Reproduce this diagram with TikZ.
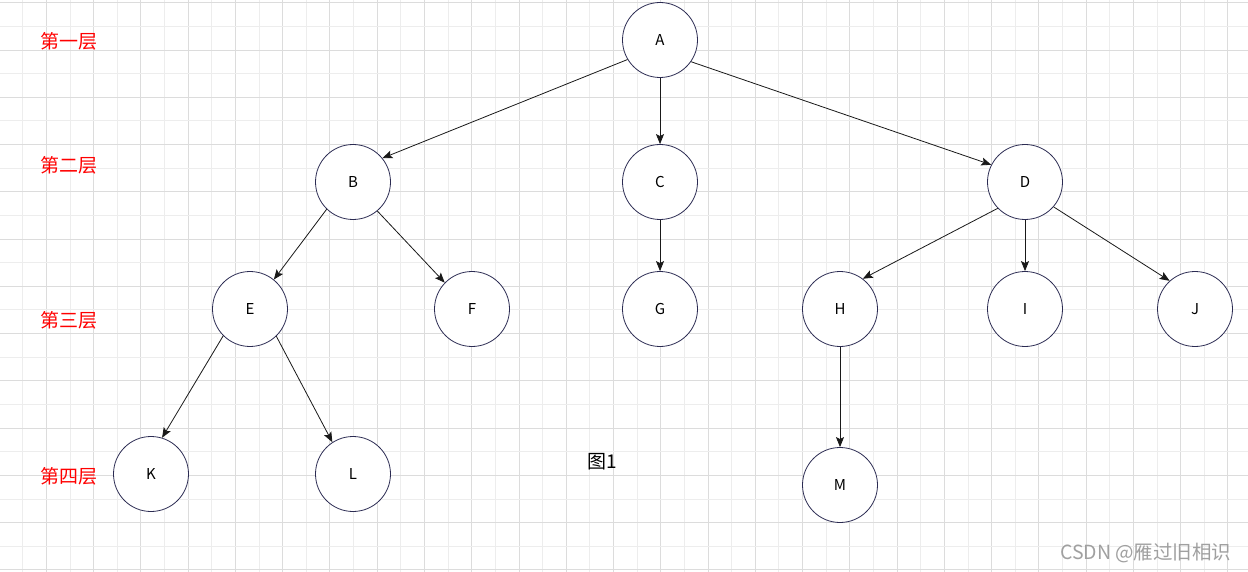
\documentclass[tikz,border=0pt]{standalone}
\usepackage{fontspec}
\setmainfont{Noto Sans CJK SC}
\usepackage{xcolor}
\usetikzlibrary{arrows.meta, positioning}
\definecolor{circleblue}{HTML}{2B2B52}
\definecolor{layerred}{HTML}{FF0000}
\definecolor{gridminor}{HTML}{EDEDED}
\definecolor{gridmajor}{HTML}{DCDCDC}
\definecolor{markgray}{HTML}{A0A0A0}

\begin{document}
\begin{tikzpicture}[
  x=1pt, y=-1pt,
  on grid,
  vertex/.style = {circle, draw=circleblue, fill=white, line width=0.8pt,
                   minimum size=75pt, inner sep=0pt,
                   font=\fontsize{15}{18}\selectfont},
  arrow/.style  = {-{Stealth[length=10pt, width=8pt, inset=2pt]},
                   line width=0.8pt, color=black!90},
  layer/.style  = {font=\fontsize{19}{22}\selectfont, color=layerred},
]

% Background grid
\fill[white] (0,0) rectangle (1248,572);
\useasboundingbox (0,0) rectangle (1248,572);
\foreach \i in {0,...,51} {
  \pgfmathsetmacro{\gx}{22.7+23.63*\i}
  \ifodd\i \def\gc{gridmajor}\else \def\gc{gridminor}\fi
  \draw[\gc, line width=0.8pt] (\gx,0) -- (\gx,572);
}
\foreach \j in {0,...,24} {
  \pgfmathsetmacro{\gy}{2.7+23.63*\j}
  \ifodd\j \def\gc{gridminor}\else \def\gc{gridmajor}\fi
  \draw[\gc, line width=0.8pt] (0,\gy) -- (1248,\gy);
}

% Nodes
\node[vertex] (A) at (660,40) {A};
\node[vertex, below left=142pt and 307pt of A]  (B) {B};
\node[vertex, below=142pt of A]                 (C) {C};
\node[vertex, below right=142pt and 365pt of A] (D) {D};
\node[vertex, below left=127pt and 103pt of B]  (E) {E};
\node[vertex, below right=127pt and 119pt of B] (F) {F};
\node[vertex, below=127pt of C]                 (G) {G};
\node[vertex, below left=127pt and 185pt of D]  (H) {H};
\node[vertex, below=127pt of D]                 (I) {I};
\node[vertex, below right=127pt and 170pt of D] (J) {J};
\node[vertex, below left=165pt and 99pt of E]   (K) {K};
\node[vertex, below right=165pt and 103pt of E] (L) {L};
\node[vertex, below=176pt of H]                 (M) {M};

% Arrows
\draw[arrow] (A.211) -- (B.39);
\draw[arrow] (A) -- (C);
\draw[arrow] (A.325) -- (D.153);
\draw[arrow] (B.226) -- (E.51);
\draw[arrow] (B.310) -- (F.136);
\draw[arrow] (C) -- (G);
\draw[arrow] (D.224) -- (H.53);
\draw[arrow] (D) -- (I);
\draw[arrow] (D.319) -- (J.132);
\draw[arrow] (E.225) -- (K.73);
\draw[arrow] (E.314) -- (L.123);
\draw[arrow] (H) -- (M);

% Layer labels
\node[layer] (lay1) at (69,41)  {第一层};
\node[layer] (lay2) at (69,165) {第二层};
\node[layer] (lay3) at (69,320) {第三层};
\node[layer] (lay4) at (69,476) {第四层};

% Caption and watermark
\node[font=\fontsize{19}{22}\selectfont] (cap) at (602,462) {图1};
\node[font=\fontsize{19.5}{22}\selectfont, color=markgray, anchor=east]
     (mark) at (1235,553) {CSDN @雁过旧相识};
\end{tikzpicture}
\end{document}
